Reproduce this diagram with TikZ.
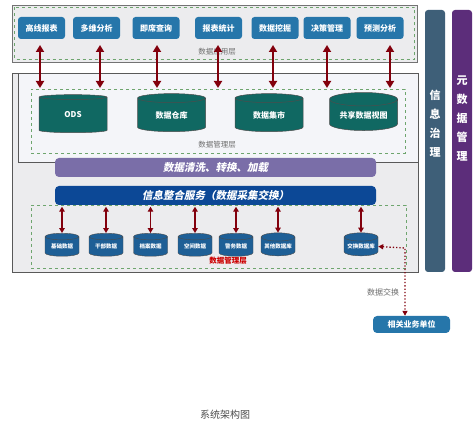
\documentclass[tikz,border=0pt]{standalone}
\usepackage{fontspec}
\setmainfont{Noto Sans CJK SC}
\newfontfamily\barfont{Noto Sans CJK SC}[FakeSlant=0.2]
\usetikzlibrary{arrows.meta,shapes.geometric,positioning}
\definecolor{appBlue}{RGB}{38,118,170}
\definecolor{odsTeal}{RGB}{16,104,98}
\definecolor{cleanPurple}{RGB}{122,110,168}
\definecolor{svcBlue}{RGB}{12,72,150}
\definecolor{dbBlue}{RGB}{30,95,150}
\definecolor{govSlate}{RGB}{62,95,120}
\definecolor{metaPurple}{RGB}{92,45,122}
\definecolor{arrowRed}{RGB}{130,0,12}
\definecolor{panelGray}{RGB}{236,236,238}
\definecolor{innerGray}{RGB}{244,245,249}
\definecolor{dashGreen}{RGB}{110,165,110}
\definecolor{labelGray}{RGB}{110,110,110}
\tikzset{
  appbox/.style={draw=none,fill=appBlue,rounded corners=3pt,text=white,
    font=\fontsize{8}{9}\selectfont\bfseries,minimum width=47pt,minimum height=22pt,inner sep=0pt},
  bigdb/.style={cylinder,shape border rotate=90,aspect=0.28,draw=black!70,line width=0.5pt,
    fill=odsTeal,text=white,font=\fontsize{8}{9}\selectfont\bfseries,
    minimum width=68pt,minimum height=38pt,inner sep=0pt},
  smalldb/.style={cylinder,shape border rotate=90,aspect=0.3,draw=black!70,line width=0.4pt,
    fill=dbBlue,text=white,font=\fontsize{5.5}{6}\selectfont\bfseries,
    minimum width=34pt,minimum height=23pt,inner sep=0pt},
  bar/.style={rounded corners=4pt,text=white,font=\fontsize{10.5}{12}\barfont\bfseries,
    minimum width=321pt,minimum height=19pt,inner sep=0pt},
  sidetext/.style={text=white,font=\fontsize{11}{19}\selectfont\bfseries,align=center,inner sep=0pt},
  layertext/.style={text=labelGray,font=\fontsize{7.5}{8}\selectfont},
  bigarrow/.style={draw=arrowRed,line width=2.4pt,
    {Triangle[length=7pt,width=8pt]}-{Triangle[length=7pt,width=8pt]}},
  smallarrow/.style={draw=arrowRed,line width=1.4pt,
    {Triangle[length=5pt,width=5.5pt]}-{Triangle[length=5pt,width=5.5pt]}}
}
\begin{document}
\begin{tikzpicture}[x=1pt,y=-1pt]
\path[use as bounding box,fill=white] (0,0) rectangle (474,430);

% application layer
\draw[draw=black!55,fill=panelGray,line width=0.8pt] (12,5) rectangle (417,62);
\draw[draw=dashGreen,dashed,line width=0.6pt] (14.5,7.5) rectangle (414.5,59.5);
\node[appbox] (a1) at (41.5,28) {高线报表};
\node[appbox] (a2) at (96.5,28) {多维分析};
\node[appbox] (a3) at (156,28) {即席查询};
\node[appbox] (a4) at (218.5,28) {报表统计};
\node[appbox] (a5) at (275,28) {数据挖掘};
\node[appbox] (a6) at (327,28) {决策管理};
\node[appbox] (a7) at (380,28) {预测分析};
\node[layertext] (applabel) at (217,52) {数据应用层};

% management layer
\draw[draw=black!65,fill=panelGray,line width=0.8pt] (12,73) rectangle (418,272);
\draw[draw=black!65,fill=innerGray,line width=0.8pt] (18,73) rectangle (418,162);
\node[draw=dashGreen,dashed,line width=0.6pt,minimum width=374pt,minimum height=64pt,inner sep=0pt]
  (mgmt) at (218,121) {};
\node[bigdb] (ods) at (73,115) {ODS};
\node[bigdb] (dw) at (171.5,115) {数据仓库};
\node[bigdb] (dm) at (269,115) {数据集市};
\node[bigdb] (sv) at (363.5,115) {共享数据视图};
\node[layertext] (mgmtlabel) at (217,145) {数据管理层};

% arrows between layers
\foreach \x in {40,100,157,218,273,327,390}
  \draw[bigarrow] (\x,45) -- (\x,88);

% etl and service bars
\node[bar,fill=cleanPurple] (etl) at (215.5,167.5) {数据清洗、转换、加载};
\node[bar,fill=svcBlue] (svc) at (215.5,195.5) {信息整合服务（数据采集交换）};

% source layer
\node[draw=dashGreen,dashed,line width=0.6pt,minimum width=375pt,minimum height=63pt,inner sep=0pt]
  (src) at (218.5,236.5) {};
\node[smalldb] (b1) at (62,246.5) {基础数据};
\node[smalldb] (b2) at (106,246.5) {干部数据};
\node[smalldb] (b3) at (150.5,246.5) {档案数据};
\node[smalldb] (b4) at (195,246.5) {空间数据};
\node[smalldb] (b5) at (236,246.5) {警务数据};
\node[smalldb] (b6) at (278,246.5) {其他数据库};
\node[smalldb] (xdb) at (361,246.5) {交换数据库};
\node[text=red!80!black,font=\fontsize{7.5}{8}\selectfont\bfseries] (srclabel) at (228,261) {数据管理层};
\foreach \n in {b1,b2,b3,b4,b5,b6,xdb}
  \draw[smallarrow] (\n.north |- svc.south) ++(0,1.5) -- (\n.north);

% exchange with other units
\node[fill=appBlue,rounded corners=4pt,text=white,font=\fontsize{8}{9}\selectfont\bfseries,
  minimum width=77pt,minimum height=17pt,inner sep=0pt] (unit) at (411.5,324.5) {相关业务单位};
\coordinate (bend) at (405,248);
\draw[draw=arrowRed,dotted,line width=1.3pt,{Triangle[length=5pt,width=5pt]}-{Triangle[length=5pt,width=5pt]}]
  (xdb.east) -- (bend) -- (bend |- unit.north);
\node[layertext,font=\fontsize{8}{9}\selectfont] (xlabel) at (383,292) {数据交换};

% side bars
\fill[govSlate,rounded corners=3pt] (425,10) rectangle (445,272);
\fill[metaPurple,rounded corners=3pt] (452,10) rectangle (472,272);
\node[sidetext] (gov) at (435,124) {信\\息\\治\\理};
\node[sidetext] (meta) at (462,119) {元\\数\\据\\管\\理};

% caption
\node[text=black!70,font=\fontsize{10}{12}\selectfont] (caption) at (225,415) {系统架构图};
\end{tikzpicture}
\end{document}
